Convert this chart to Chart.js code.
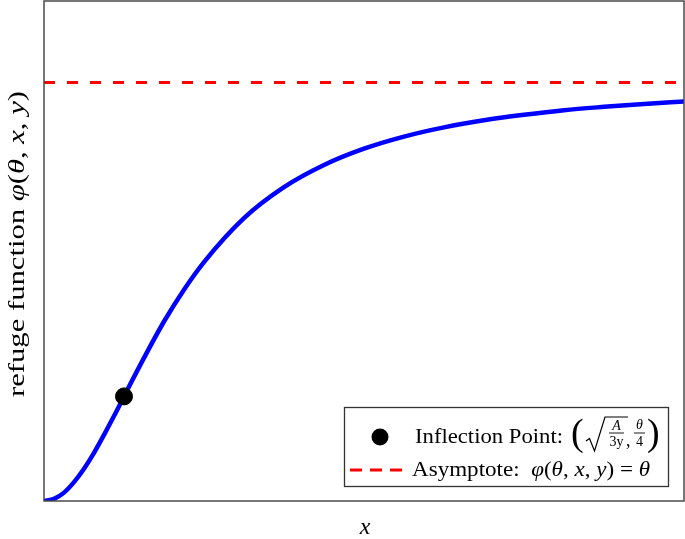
<!DOCTYPE html>
<html>
<head>
<meta charset="utf-8">
<script src="https://cdn.jsdelivr.net/npm/chart.js@4.4.1/dist/chart.umd.min.js"></script>
<style>
  html, body { margin: 0; padding: 0; background: #fff; }
  #wrap { width: 685px; height: 539px; }
</style>
</head>
<body>
<div id="wrap"><canvas id="c" width="685" height="539"></canvas></div>
<script>
// x in units where the inflection point sits at x = 1, phi in units of theta
const curveX = [0, 0.125, 0.25, 0.375, 0.5, 0.625, 0.75, 0.875, 1, 1.25, 1.5, 1.75, 2, 2.5, 3, 3.5, 4, 4.5, 5, 5.5, 6, 6.5, 7, 7.5, 8];
const curveY = [0, 0.005, 0.020, 0.045, 0.077, 0.115, 0.158, 0.203, 0.250, 0.342, 0.429, 0.505, 0.571, 0.676, 0.750, 0.803, 0.842, 0.871, 0.893, 0.910, 0.923, 0.934, 0.942, 0.949, 0.955];
const inflectionX = [1];
const inflectionY = [0.25];
const asymptoteX = [0, 8];
const asymptoteY = [1, 1];
const xRange = [0, 8];
const yRange = [0, 1.195];

const SERIF = '"Liberation Serif", "Times New Roman", serif';

function pts(xs, ys) { return xs.map((x, i) => ({ x: x, y: ys[i] })); }

function runsWidth(ctx, list, size) {
  let w = 0;
  for (const r of list) {
    ctx.font = (r.i ? 'italic ' : '') + size + 'px ' + SERIF;
    w += ctx.measureText(r.t).width;
  }
  return w;
}
// draw runs of mixed roman/italic text, stretched horizontally to a target width
function runsFit(ctx, list, x, y, size, target) {
  const w = runsWidth(ctx, list, size);
  const s = target / w;
  ctx.save();
  ctx.translate(x, y);
  ctx.scale(s, 1);
  let cx = 0;
  for (const r of list) {
    ctx.font = (r.i ? 'italic ' : '') + size + 'px ' + SERIF;
    ctx.fillText(r.t, cx, 0);
    cx += ctx.measureText(r.t).width;
  }
  ctx.restore();
}

const decor = {
  id: 'decor',
  afterDatasetsDraw(chart) {
    const ctx = chart.ctx;
    const a = chart.chartArea;
    ctx.save();
    // frame
    ctx.strokeStyle = '#4a4a4a';
    ctx.lineWidth = 1.5;
    ctx.strokeRect(a.left, a.top, a.right - a.left, a.bottom - a.top);

    ctx.fillStyle = '#000';
    ctx.textBaseline = 'alphabetic';
    ctx.textAlign = 'left';

    // x label
    ctx.font = 'italic 24px ' + SERIF;
    const xw = ctx.measureText('x').width;
    ctx.fillText('x', 365 - xw / 2, 534);

    // y label
    const yl = [{ t: 'refuge function ' }, { t: 'φ', i: 1 }, { t: '(' }, { t: 'θ', i: 1 }, { t: ', ' }, { t: 'x', i: 1 }, { t: ', ' }, { t: 'y', i: 1 }, { t: ')' }];
    ctx.save();
    ctx.translate(24, 397);
    ctx.rotate(-Math.PI / 2);
    runsFit(ctx, yl, 0, 0, 24, 306);
    ctx.restore();

    // legend box
    ctx.fillStyle = '#fff';
    ctx.fillRect(344.5, 407.5, 324, 79);
    ctx.strokeStyle = '#333';
    ctx.lineWidth = 1.3;
    ctx.strokeRect(344.5, 407.5, 324, 79);

    // legend marker: point
    ctx.fillStyle = '#000';
    ctx.beginPath();
    ctx.arc(380, 437, 8.5, 0, Math.PI * 2);
    ctx.fill();

    // legend marker: dashed line
    ctx.strokeStyle = '#ff0000';
    ctx.lineWidth = 3;
    ctx.setLineDash([12, 8]);
    ctx.beginPath();
    ctx.moveTo(350, 470);
    ctx.lineTo(409, 470);
    ctx.stroke();
    ctx.setLineDash([]);

    // legend text line 1
    ctx.fillStyle = '#000';
    runsFit(ctx, [{ t: 'Inflection Point:' }], 415, 443, 21.5, 148);
    ctx.font = '38px ' + SERIF;
    ctx.fillText('(', 571, 445);
    ctx.fillText(')', 647, 445);
    // radical
    ctx.strokeStyle = '#000';
    ctx.lineWidth = 1.2;
    ctx.beginPath();
    ctx.moveTo(586, 441);
    ctx.lineTo(589.5, 438.5);
    ctx.lineTo(594.5, 451);
    ctx.lineTo(605, 417);
    ctx.lineTo(628, 417);
    ctx.stroke();
    ctx.lineWidth = 0.9;
    ctx.beginPath();
    ctx.moveTo(609, 433); ctx.lineTo(624, 433);
    ctx.moveTo(634, 433); ctx.lineTo(645, 433);
    ctx.stroke();
    ctx.textAlign = 'center';
    ctx.font = 'italic 14px ' + SERIF;
    ctx.fillText('A', 616.5, 430);
    ctx.fillText('θ', 639.5, 429);
    ctx.font = '14px ' + SERIF;
    ctx.fillText('3y', 616.5, 446);
    ctx.fillText('4', 639.5, 446);
    ctx.textAlign = 'left';
    ctx.font = '18px ' + SERIF;
    ctx.fillText(',', 626, 446);

    // legend text line 2
    const l2 = [{ t: 'Asymptote:  ' }, { t: 'φ', i: 1 }, { t: '(' }, { t: 'θ', i: 1 }, { t: ', ' }, { t: 'x', i: 1 }, { t: ', ' }, { t: 'y', i: 1 }, { t: ') = ' }, { t: 'θ', i: 1 }];
    runsFit(ctx, l2, 412, 476, 21.5, 238);
    ctx.restore();
  }
};

new Chart(document.getElementById('c'), {
  type: 'scatter',
  data: {
    datasets: [
      {
        label: 'Inflection Point',
        data: pts(inflectionX, inflectionY),
        backgroundColor: '#000',
        borderColor: '#000',
        pointRadius: 8.5,
        pointHoverRadius: 8.5,
        showLine: false,
        order: 0
      },
      {
        label: 'refuge function',
        data: pts(curveX, curveY),
        borderColor: '#0000ff',
        borderWidth: 4.5,
        pointRadius: 0,
        showLine: true,
        cubicInterpolationMode: 'monotone',
        order: 1
      },
      {
        label: 'Asymptote',
        data: pts(asymptoteX, asymptoteY),
        borderColor: '#ff0000',
        borderWidth: 3,
        borderDash: [11, 12],
        pointRadius: 0,
        showLine: true,
        order: 2
      }
    ]
  },
  options: {
    responsive: false,
    animation: false,
    devicePixelRatio: 1,
    layout: { autoPadding: false, padding: { left: 44, top: 1, right: 1, bottom: 38 } },
    plugins: { legend: { display: false }, tooltip: { enabled: false } },
    scales: {
      x: { type: 'linear', min: xRange[0], max: xRange[1], display: false },
      y: { type: 'linear', min: yRange[0], max: yRange[1], display: false }
    }
  },
  plugins: [decor]
});
</script>
</body>
</html>
